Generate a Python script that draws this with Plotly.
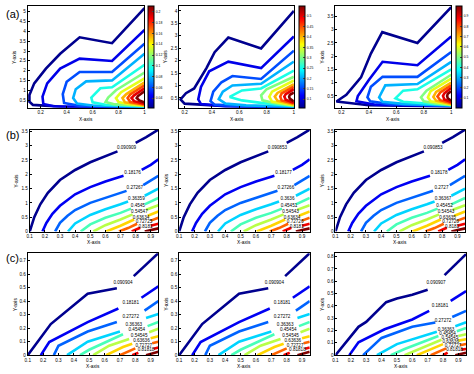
import plotly.graph_objects as go
from plotly.colors import sample_colorscale

W, H = 474, 374
JET = [[0, 'rgb(0,0,143)'], [0.125, 'rgb(0,0,255)'], [0.375, 'rgb(0,255,255)'],
       [0.625, 'rgb(255,255,0)'], [0.875, 'rgb(255,0,0)'], [1, 'rgb(128,0,0)']]

# ---------------- Row (a) contour lines ----------------
A1_x = [
    [1.0, 0.75, 0.5, 0.35, 0.24, 0.15, 0.113, 0.113, 0.14, 0.4, 1.0],
    [1.0, 0.75, 0.5, 0.35, 0.25, 0.214, 0.22, 0.3, 1.0],
    [1.0, 0.75, 0.5, 0.4, 0.37, 0.38, 0.5, 1.0],
    [1.0, 0.75, 0.55, 0.47, 0.45, 0.48, 0.6, 1.0],
    [1.0, 0.75, 0.66, 0.59, 0.6, 0.7, 1.0],
    [1.0, 0.78, 0.72, 0.7, 0.76, 1.0],
    [1.0, 0.82, 0.78, 0.8, 0.87, 1.0],
    [1.0, 0.86, 0.83, 0.85, 1.0],
    [1.0, 0.89, 0.87, 0.89, 1.0],
    [1.0, 0.92, 0.9, 0.92, 1.0],
    [1.0, 0.95, 0.94, 0.96, 1.0],
]
A1_y = [
    [5.19, 3.4, 3.7, 2.86, 2.1, 1.35, 0.76, 0.42, 0.25, 0.14, 0.11],
    [4.07, 2.49, 2.61, 2.1, 1.35, 0.67, 0.3, 0.18, 0.12],
    [3.37, 1.93, 1.93, 1.43, 0.8, 0.35, 0.2, 0.13],
    [2.86, 1.5, 1.45, 1.05, 0.6, 0.32, 0.22, 0.15],
    [2.3, 1.15, 1.1, 0.62, 0.38, 0.26, 0.17],
    [1.9, 1.0, 0.62, 0.4, 0.29, 0.19],
    [1.6, 0.9, 0.6, 0.4, 0.3, 0.21],
    [1.4, 0.8, 0.6, 0.38, 0.24],
    [1.25, 0.78, 0.6, 0.4, 0.27],
    [1.1, 0.74, 0.6, 0.44, 0.31],
    [0.95, 0.7, 0.6, 0.48, 0.37],
]
A2_x = [
    [1.0, 0.76, 0.52, 0.42, 0.36, 0.27, 0.21, 0.17, 0.2, 0.5, 1.0],
    [1.0, 0.76, 0.52, 0.38, 0.32, 0.3, 0.32, 0.5, 1.0],
    [1.0, 0.76, 0.55, 0.47, 0.41, 0.39, 0.42, 0.6, 1.0],
    [1.0, 0.76, 0.55, 0.48, 0.45, 0.5, 0.65, 1.0],
    [1.0, 0.76, 0.62, 0.53, 0.62, 0.76, 1.0],
    [1.0, 0.8, 0.76, 0.77, 0.85, 1.0],
    [1.0, 0.84, 0.82, 0.84, 1.0],
    [1.0, 0.88, 0.86, 0.88, 1.0],
    [1.0, 0.91, 0.9, 0.91, 1.0],
    [1.0, 0.94, 0.93, 0.94, 1.0],
    [1.0, 0.97, 0.965, 0.97, 1.0],
]
A2_y = [
    [4.0, 2.49, 2.93, 2.34, 1.7, 0.88, 0.69, 0.44, 0.27, 0.17, 0.12],
    [2.97, 1.7, 1.96, 1.57, 0.94, 0.44, 0.25, 0.17, 0.13],
    [2.4, 1.26, 1.38, 1.13, 0.75, 0.37, 0.23, 0.17, 0.14],
    [1.96, 1.07, 1.0, 0.75, 0.45, 0.27, 0.2, 0.15],
    [1.6, 0.88, 0.8, 0.54, 0.4, 0.3, 0.17],
    [1.35, 0.85, 0.6, 0.4, 0.3, 0.19],
    [1.2, 0.75, 0.55, 0.35, 0.21],
    [1.05, 0.7, 0.55, 0.38, 0.24],
    [0.95, 0.68, 0.55, 0.4, 0.27],
    [0.85, 0.65, 0.55, 0.43, 0.3],
    [0.72, 0.62, 0.55, 0.47, 0.36],
]
A3_x = [
    [1.0, 0.754, 0.498, 0.415, 0.343, 0.27, 0.236, 0.164, 0.4, 1.0],
    [1.0, 0.754, 0.5, 0.4, 0.32, 0.31, 0.45, 1.0],
    [1.0, 0.754, 0.5, 0.415, 0.39, 0.41, 0.55, 1.0],
    [1.0, 0.754, 0.52, 0.475, 0.5, 0.65, 1.0],
    [1.0, 0.754, 0.65, 0.594, 0.65, 0.8, 1.0],
    [1.0, 0.82, 0.78, 0.8, 0.88, 1.0],
    [1.0, 0.85, 0.83, 0.85, 1.0],
    [1.0, 0.89, 0.87, 0.89, 1.0],
    [1.0, 0.92, 0.9, 0.92, 1.0],
    [1.0, 0.95, 0.94, 0.95, 1.0],
    [1.0, 0.975, 0.97, 0.975, 1.0],
]
A3_y = [
    [3.85, 2.5, 2.91, 2.1, 1.2, 0.72, 0.54, 0.29, 0.15, 0.1],
    [2.75, 1.66, 1.79, 1.1, 0.5, 0.3, 0.17, 0.12],
    [2.16, 1.22, 1.22, 0.85, 0.45, 0.3, 0.19, 0.13],
    [1.79, 0.95, 0.9, 0.45, 0.28, 0.2, 0.14],
    [1.5, 0.75, 0.7, 0.41, 0.28, 0.22, 0.15],
    [1.3, 0.7, 0.45, 0.3, 0.22, 0.16],
    [1.15, 0.68, 0.45, 0.3, 0.18],
    [1.0, 0.65, 0.46, 0.32, 0.2],
    [0.9, 0.63, 0.48, 0.34, 0.23],
    [0.8, 0.6, 0.5, 0.37, 0.27],
    [0.68, 0.58, 0.5, 0.41, 0.32],
]

# colorbar ranges / ticks for row (a)
CB1_range, CB1_ticks = [0.022, 0.211], [0.04, 0.06, 0.08, 0.1, 0.12, 0.14, 0.16, 0.18, 0.2]
CB2_range, CB2_ticks = [0.058, 0.55], [0.1, 0.15, 0.2, 0.25, 0.3, 0.35, 0.4, 0.45, 0.5]
CB3_range, CB3_ticks = [0.006, 1.0], [0.1, 0.2, 0.3, 0.4, 0.5, 0.6, 0.7, 0.8, 0.9]

# ---------------- Row (b) contour lines ----------------
B_x = [
    [0.1, 0.13, 0.17, 0.22, 0.3, 0.4, 0.5, 0.6, 0.68, None, 0.8, 0.87, 0.95],
    [0.184, 0.21, 0.25, 0.3, 0.4, 0.5, 0.6, 0.72, None, 0.84, 0.9, 0.95],
    [0.268, 0.3, 0.35, 0.4, 0.5, 0.6, 0.7, 0.74, None, 0.85, 0.9, 0.95],
    [0.353, 0.4, 0.5, 0.6, 0.7, 0.75, None, 0.86, 0.95],
    [0.437, 0.5, 0.6, 0.7, 0.77, None, 0.86, 0.95],
    [0.52, 0.6, 0.7, 0.78, None, 0.87, 0.95],
    [0.605, 0.7, 0.79, None, 0.88, 0.95],
    [0.69, 0.75, 0.81, None, 0.9, 0.95],
    [0.774, 0.82, 0.83, None, 0.9, 0.95],
    [0.86, 0.9, 0.95],
]
B_y = [
    [0, 0.5, 0.95, 1.35, 1.8, 2.15, 2.42, 2.62, 2.8, None, 3.1, 3.3, 3.56],
    [0, 0.3, 0.62, 0.9, 1.3, 1.55, 1.75, 1.95, None, 2.15, 2.33, 2.52],
    [0, 0.3, 0.55, 0.75, 1.0, 1.18, 1.35, 1.42, None, 1.62, 1.78, 1.94],
    [0, 0.28, 0.58, 0.78, 0.95, 1.05, None, 1.25, 1.5],
    [0, 0.25, 0.48, 0.65, 0.8, None, 0.95, 1.17],
    [0, 0.22, 0.42, 0.6, None, 0.76, 0.92],
    [0, 0.2, 0.42, None, 0.55, 0.7],
    [0, 0.12, 0.27, None, 0.38, 0.48],
    [0, 0.1, 0.13, None, 0.2, 0.27],
    [0, 0.05, 0.11],
]
B_lab_x = [0.74, 0.78, 0.795, 0.805, 0.815, 0.825, 0.835, 0.855, 0.865]
B_lab_y = [2.92, 2.06, 1.53, 1.15, 0.88, 0.68, 0.48, 0.32, 0.17]
B1_lab = ['0.090909', '0.18176', '0.27267', '0.36359', '0.4545', '0.54547', '0.63634', '0.72725', '0.8181']
B2_lab = ['0.090853', '0.18177', '0.27266', '0.3636', '0.45451', '0.54543', '0.63634', '0.72726', '0.8181']
B3_lab = ['0.090853', '0.18178', '0.2727', '0.36367', '0.45452', '0.54543', '0.63635', '0.72726', '0.8181']

# ---------------- Row (c) contour lines ----------------
C1_x = [
    [0.1, 0.25, 0.49, 0.68, None, 0.79, 0.95],
    [0.185, 0.24, 0.49, 0.69, None, 0.84, 0.95],
    [0.27, 0.3, 0.49, 0.68, None, 0.86, 0.95],
    [0.356, 0.49, 0.7, None, 0.87, 0.95],
    [0.44, 0.5, 0.72, None, 0.88, 0.95],
    [0.526, 0.63, 0.76, None, 0.89, 0.95],
    [0.61, 0.72, 0.78, None, 0.9, 0.95],
    [0.7, 0.78, 0.8, None, 0.91, 0.95],
    [0.78, 0.81, 0.82, None, 0.92, 0.95],
    [0.87, 0.95],
]
C1_y = [
    [0, 0.23, 0.455, 0.495, None, 0.585, 0.755],
    [0, 0.097, 0.245, 0.345, None, 0.425, 0.51],
    [0, 0.07, 0.175, 0.245, None, 0.33, 0.4],
    [0, 0.1, 0.175, None, 0.275, 0.305],
    [0, 0.04, 0.155, None, 0.215, 0.245],
    [0, 0.07, 0.12, None, 0.17, 0.195],
    [0, 0.06, 0.085, None, 0.125, 0.14],
    [0, 0.044, 0.05, None, 0.088, 0.1],
    [0, 0.012, 0.018, None, 0.048, 0.057],
    [0, 0.025],
]
C1_lab_x = [0.72, 0.77, 0.77, 0.79, 0.81, 0.825, 0.84, 0.855, 0.87]
C1_lab_y = [0.535, 0.39, 0.285, 0.225, 0.185, 0.145, 0.105, 0.068, 0.036]
C1_lab = ['0.090904', '0.18181', '0.27272', '0.36363', '0.45454', '0.54545', '0.63636', '0.72727', '0.81818']
C2_lab = ['0.090904', '0.18181', '0.27272', '0.36363', '0.45454', '0.54545', '0.63636', '0.72727', '0.81818']

C3_x = [
    [0.1, 0.25, 0.3, 0.43, 0.5, 0.6, 0.7, None, 0.81, 0.95],
    [0.19, 0.25, 0.42, 0.6, 0.71, None, 0.85, 0.95],
    [0.28, 0.4, 0.6, 0.75, None, 0.86, 0.95],
    [0.37, 0.5, 0.76, None, 0.88, 0.95],
    [0.46, 0.55, 0.77, None, 0.89, 0.95],
    [0.55, 0.65, 0.79, None, 0.9, 0.95],
    [0.63, 0.72, 0.8, None, 0.9, 0.95],
    [0.72, 0.8, 0.82, None, 0.91, 0.95],
    [0.8, 0.83, None, 0.92, 0.95],
    [0.88, 0.95],
]
C3_y = [
    [0, 0.23, 0.27, 0.43, 0.46, 0.49, 0.53, None, 0.65, 0.82],
    [0, 0.105, 0.21, 0.29, 0.36, None, 0.44, 0.52],
    [0, 0.14, 0.23, 0.265, None, 0.31, 0.36],
    [0, 0.09, 0.19, None, 0.235, 0.267],
    [0, 0.05, 0.155, None, 0.195, 0.22],
    [0, 0.05, 0.125, None, 0.155, 0.17],
    [0, 0.045, 0.09, None, 0.118, 0.13],
    [0, 0.04, 0.055, None, 0.08, 0.09],
    [0, 0.02, None, 0.045, 0.05],
    [0, 0.02],
]
C3_lab_x = [0.755, 0.78, 0.8, 0.82, 0.83, 0.845, 0.85, 0.865, 0.875]
C3_lab_y = [0.59, 0.4, 0.28, 0.208, 0.173, 0.139, 0.107, 0.075, 0.04]
C3_lab = ['0.090907', '0.18181', '0.27272', '0.36363', '0.45454', '0.54545', '0.63636', '0.72727', '0.81818']

# ---------------- panel layout (pixel boxes) ----------------
panels = [
    dict(box=(25, 143, 5, 108), xr=[0.1, 1.0], yr=[0.1, 5.3], dx=0.2, x0=0.2, dy=0.5, y0=0,
         lx=A1_x, ly=A1_y, cb=(147, CB1_range, CB1_ticks)),
    dict(box=(178, 294, 5, 108), xr=[0.16, 1.0], yr=[0.1, 4.2], dx=0.2, x0=0.2, dy=0.5, y0=0,
         lx=A2_x, ly=A2_y, cb=(299, CB2_range, CB2_ticks)),
    dict(box=(336, 453, 5, 108), xr=[0.157, 1.0], yr=[0.05, 3.9], dx=0.2, x0=0.2, dy=0.5, y0=0,
         lx=A3_x, ly=A3_y, cb=(458, CB3_range, CB3_ticks)),
    dict(box=(27, 157, 130, 233), xr=[0.1, 0.95], yr=[0, 3.56], dx=0.1, x0=0.1, dy=0.5, y0=0,
         lx=B_x, ly=B_y, labs=(B_lab_x, B_lab_y, B1_lab)),
    dict(box=(178, 310, 130, 233), xr=[0.1, 0.95], yr=[0, 3.56], dx=0.1, x0=0.1, dy=0.5, y0=0,
         lx=B_x, ly=B_y, labs=(B_lab_x, B_lab_y, B2_lab)),
    dict(box=(336, 467, 130, 233), xr=[0.1, 0.95], yr=[0, 3.56], dx=0.1, x0=0.1, dy=0.5, y0=0,
         lx=B_x, ly=B_y, labs=(B_lab_x, B_lab_y, B3_lab)),
    dict(box=(25, 157, 255, 358), xr=[0.1, 0.95], yr=[0, 0.754], dx=0.1, x0=0.1, dy=0.1, y0=0,
         lx=C1_x, ly=C1_y, labs=(C1_lab_x, C1_lab_y, C1_lab)),
    dict(box=(178, 310, 255, 358), xr=[0.1, 0.95], yr=[0, 0.754], dx=0.1, x0=0.1, dy=0.1, y0=0,
         lx=C1_x, ly=C1_y, labs=(C1_lab_x, C1_lab_y, C2_lab)),
    dict(box=(336, 468, 255, 358), xr=[0.1, 0.95], yr=[0, 0.827], dx=0.1, x0=0.1, dy=0.1, y0=0,
         lx=C3_x, ly=C3_y, labs=(C3_lab_x, C3_lab_y, C3_lab)),
]

FONT = 'Liberation Sans, Arial, sans-serif'
fig = go.Figure()
layout = dict(width=W, height=H, margin=dict(l=0, r=0, t=0, b=0),
              paper_bgcolor='white', plot_bgcolor='white', showlegend=False,
              font=dict(family=FONT, color='black'))
annotations = []

for i, p in enumerate(panels, start=1):
    xa = 'x' if i == 1 else f'x{i}'
    ya = 'y' if i == 1 else f'y{i}'
    l, r, t, b = p['box']
    n = len(p['lx'])
    cols = sample_colorscale(JET, [k / (n - 1) for k in range(n)])
    for k in range(n):
        fig.add_trace(go.Scatter(x=p['lx'][k], y=p['ly'][k], mode='lines', xaxis=xa, yaxis=ya,
                                 line=dict(color=cols[k], width=2.6), connectgaps=False,
                                 hoverinfo='skip'))
    if 'labs' in p:
        lxs, lys, txt = p['labs']
        fig.add_trace(go.Scatter(x=lxs, y=lys, text=txt, mode='text', xaxis=xa, yaxis=ya,
                                 textfont=dict(size=4.6, color='black', family=FONT),
                                 hoverinfo='skip'))
    if 'cb' in p:
        cbx, crange, cticks = p['cb']
        fig.add_trace(go.Scatter(x=[None], y=[None], mode='markers', xaxis=xa, yaxis=ya,
                                 marker=dict(color=[crange[0]], colorscale=JET, cmin=crange[0],
                                             cmax=crange[1], showscale=True,
                                             colorbar=dict(x=cbx / W, xanchor='left', xpad=0, ypad=0,
                                                           y=1 - (t + b) / 2 / H, yanchor='middle',
                                                           len=(b - t) / H, lenmode='fraction',
                                                           thickness=6, outlinewidth=1,
                                                           outlinecolor='black', tickvals=cticks,
                                                           ticks='inside', ticklen=2,
                                                           ticklabelposition='outside',
                                                           tickfont=dict(size=3.4, family=FONT)))))
    axc = dict(showline=True, mirror=True, linecolor='black', linewidth=1, ticks='inside',
               ticklen=2, tickcolor='black', showgrid=False, zeroline=False,
               tickfont=dict(size=4.6, family=FONT, color='black'))
    layout['xaxis' if i == 1 else f'xaxis{i}'] = dict(
        axc, domain=[l / W, r / W], range=p['xr'], anchor=ya, tick0=p['x0'], dtick=p['dx'])
    layout['yaxis' if i == 1 else f'yaxis{i}'] = dict(
        axc, domain=[1 - b / H, 1 - t / H], range=p['yr'], anchor=xa, tick0=p['y0'], dtick=p['dy'])
    annotations.append(dict(text='X-axis', x=(l + r) / 2 / W, y=1 - (b + 11.5) / H, xref='paper',
                            yref='paper', xanchor='center', yanchor='middle', showarrow=False,
                            font=dict(size=4.8, family=FONT)))
    annotations.append(dict(text='Y-axis', x=(l - 13) / W, y=1 - (t + b) / 2 / H, xref='paper',
                            yref='paper', xanchor='center', yanchor='middle', showarrow=False,
                            textangle=-90, font=dict(size=4.8, family=FONT)))

for lab, yy in [('(a)', 13), ('(b)', 135), ('(c)', 260)]:
    annotations.append(dict(text=lab, x=10 / W, y=1 - yy / H, xref='paper', yref='paper',
                            xanchor='center', yanchor='middle', showarrow=False,
                            font=dict(size=11, family=FONT, color='black')))

layout['annotations'] = annotations
fig.update_layout(**layout)
fig.write_html('out.html', config={'displayModeBar': False, 'staticPlot': True},
               post_script="document.body.style.margin='0';document.body.style.padding='0';")
